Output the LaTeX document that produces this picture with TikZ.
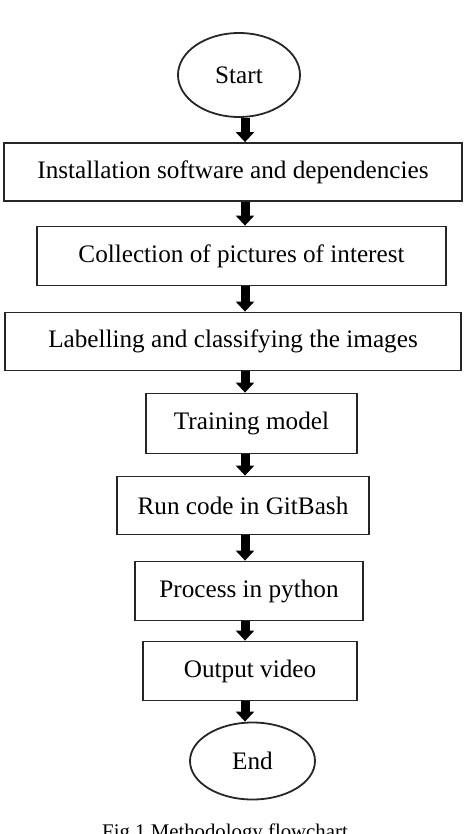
\documentclass[tikz,border=0pt]{standalone}
\usepackage{fontspec}
\setmainfont{Liberation Serif}
\usepackage{tikz}
\usetikzlibrary{shapes.geometric, arrows.meta, positioning, calc}
\tikzstyle{terminator} = [ellipse, minimum width=61pt, minimum height=42pt, text centered, draw=black!85, line width=0.9pt]
\tikzstyle{process} = [rectangle, minimum height=29pt, text centered, draw=black!85, line width=0.9pt]
\tikzstyle{arrow} = [line width=4.5pt, -{Triangle[width=9pt, length=5pt]}]

\begin{document}
\begin{tikzpicture}[node distance=42pt, font=\fontsize{12.6}{14}\selectfont]
\useasboundingbox (0,0) rectangle (237pt,-417pt);
\coordinate (spine) at (122.5pt,0);
\node (start) [terminator] at (119.5pt,-37.5pt) {Start};
\node (install) [process, below of=start, xshift=-3pt, yshift=-6.5pt, minimum width=229pt] {Installation software and dependencies};
\node (collect) [process, below of=install, xshift=4.25pt, minimum width=204.5pt, minimum height=29.5pt] {Collection of pictures of interest};
\node (label) [process, below of=collect, xshift=-4.25pt, yshift=-0.75pt, minimum width=228pt] {Labelling and classifying the images};
\node (train) [process, below of=label, xshift=9.25pt, yshift=1pt, minimum width=105.5pt, minimum height=30pt] {Training model};
\node (gitbash) [process, below of=train, xshift=-4.25pt, yshift=1pt, minimum width=126pt] {Run code in GitBash};
\node (python) [process, below of=gitbash, xshift=3pt, yshift=-0.75pt, minimum width=114pt, minimum height=29.5pt] {Process in python};
\node (video) [process, below of=python, xshift=0.5pt, yshift=2pt, minimum width=107pt, minimum height=29.5pt] {Output video};
\node (end) [terminator, below of=video, xshift=1.25pt, yshift=-3pt, minimum width=62.5pt, minimum height=38.5pt] {End};
\node (caption) [anchor=base, font=\fontsize{10.4}{12}\selectfont] at (112.5pt,-419.35pt) {Fig 1 Methodology flowchart};

\draw [arrow] (start.south -| spine) -- (install.north -| spine);
\draw [arrow] (install.south -| spine) -- (collect.north -| spine);
\draw [arrow] (collect.south -| spine) -- (label.north -| spine);
\draw [arrow] (label.south -| spine) -- (train.north -| spine);
\draw [arrow] (train.south -| spine) -- (gitbash.north -| spine);
\draw [arrow] (gitbash.south -| spine) -- (python.north -| spine);
\draw [arrow] (python.south -| spine) -- (video.north -| spine);
\draw [arrow] (video.south -| spine) -- (end.north -| spine);
\end{tikzpicture}
\end{document}
